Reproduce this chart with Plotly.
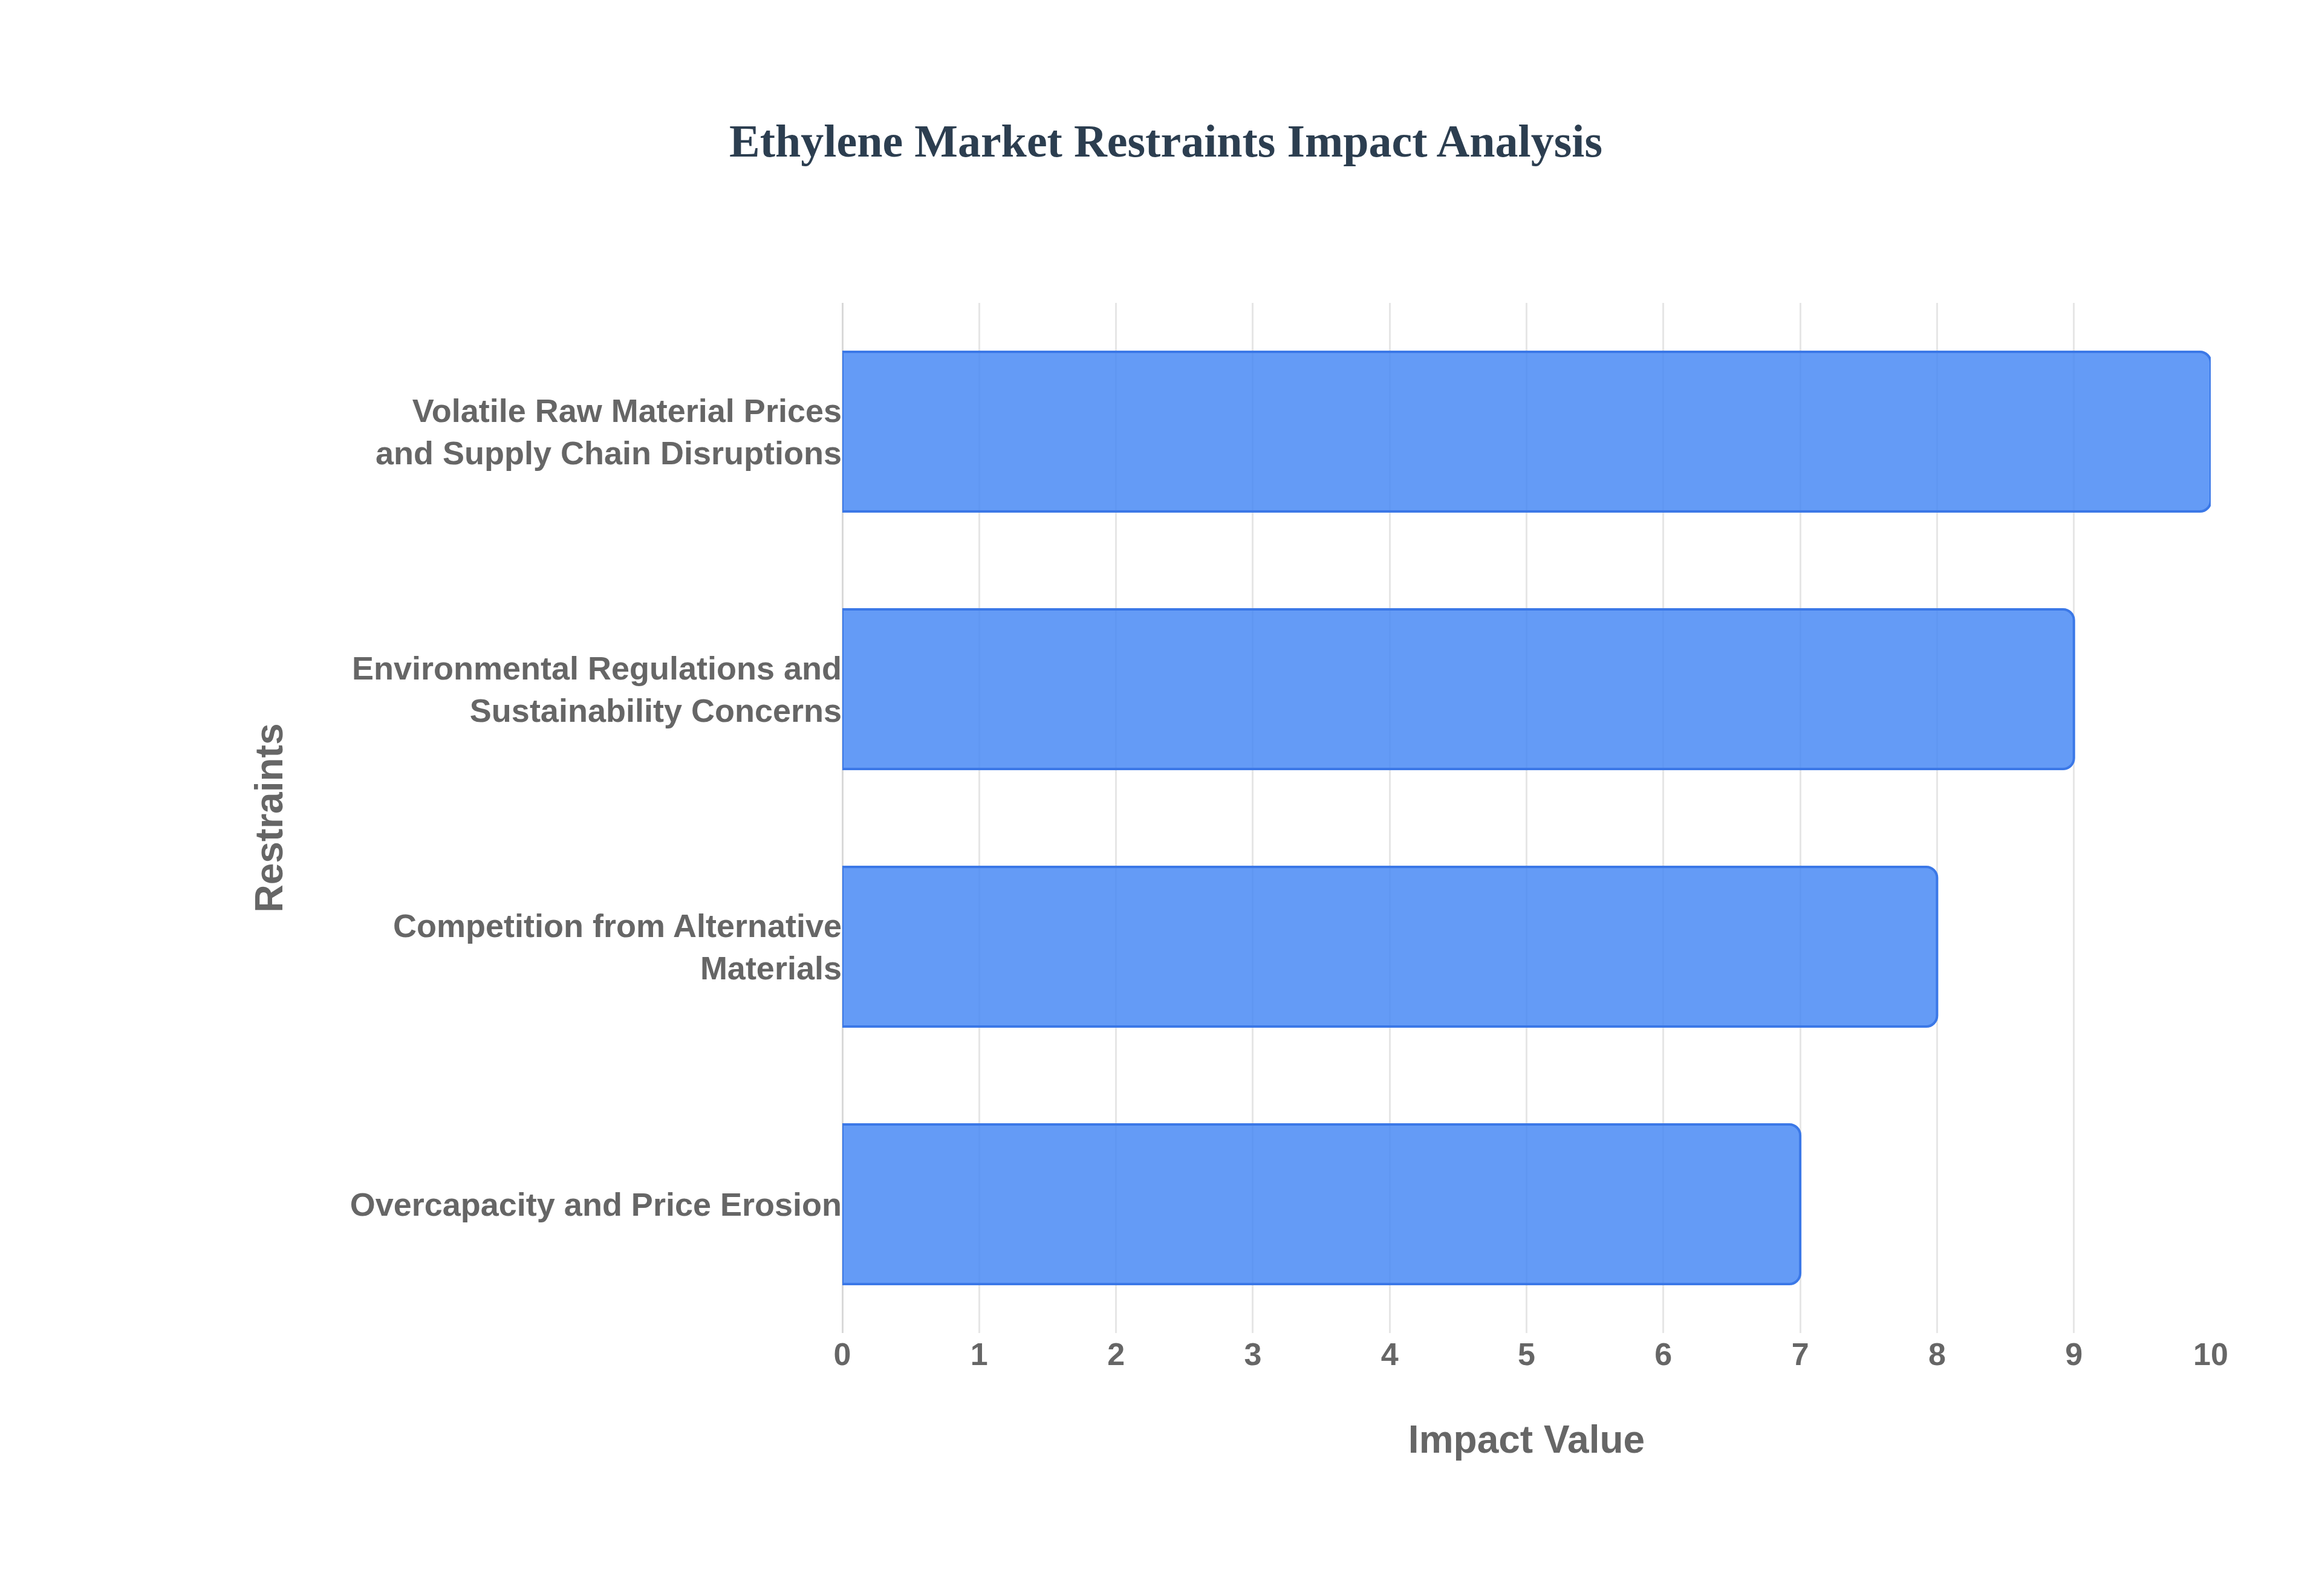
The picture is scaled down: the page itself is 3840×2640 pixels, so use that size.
import plotly.graph_objects as go

restraints = [
    'Overcapacity and Price Erosion',
    'Competition from Alternative<br>Materials',
    'Environmental Regulations and<br>Sustainability Concerns',
    'Volatile Raw Material Prices<br>and Supply Chain Disruptions',
]
impact = [7, 8, 9, 10]

fig = go.Figure()
fig.add_trace(go.Bar(
    x=impact, y=restraints, orientation='h',
    marker=dict(color='rgba(66,133,244,0.82)', line=dict(color='#3b78e7', width=4), cornerradius=18),
))

fig.update_layout(
    width=3840, height=2640,
    paper_bgcolor='white', plot_bgcolor='white',
    margin=dict(l=1385, r=192, t=493, b=443),
    bargap=0.38,
    showlegend=False,
    title=dict(text='<b>Ethylene Market Restraints Impact Analysis</b>', x=0.5, xanchor='center',
               y=0.915, yanchor='middle',
               font=dict(family='Liberation Serif', size=76, color='#2c3e50')),
    font=dict(family='Liberation Sans', color='#666666'),
)
fig.update_xaxes(
    range=[0, 10], dtick=1, showgrid=True, gridcolor='#e6e6e6', gridwidth=3,
    zeroline=True, zerolinecolor='#d9d9d9', zerolinewidth=3,
    tickfont=dict(size=52, color='#666666'),
    title=dict(text='<b>Impact Value</b>', font=dict(size=64, color='#666666'), standoff=90),
)
fig.update_yaxes(
    showgrid=False, ticks='', ticksuffix='    ',
    tickfont=dict(size=54, color='#666666'),
    title=dict(text='<b>Restraints</b>', font=dict(size=64, color='#666666'), standoff=90),
)
# bold tick labels
fig.update_yaxes(tickvals=restraints, ticktext=['<b>' + r + '</b>' for r in restraints])
fig.update_xaxes(tickvals=list(range(11)), ticktext=['<b>%d</b>' % i for i in range(11)])

fig.write_html("out.html")
